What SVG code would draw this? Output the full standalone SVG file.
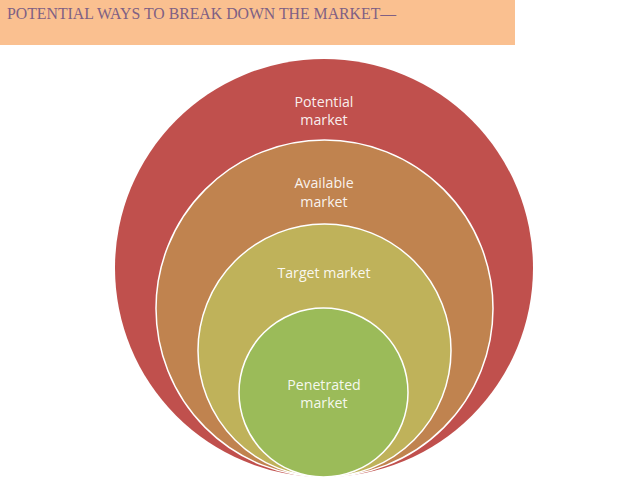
<svg xmlns="http://www.w3.org/2000/svg" width="638" height="479" viewBox="0 0 638 479">
<style>
.lbl{font-family:"Open Sans","Liberation Sans",sans-serif;font-size:14.2px;fill:#ffffff;fill-opacity:0.92;text-anchor:middle}
.ring{stroke:#ffffff;stroke-width:1.5}
</style>
<rect width="638" height="479" fill="#ffffff"/>
<g id="header">
<rect x="0" y="0" width="515" height="45" fill="#FAC090"/>
<text x="7" y="19" font-family="Liberation Serif,serif" font-size="15.8" fill="#7F6084">POTENTIAL WAYS TO BREAK DOWN THE MARKET—</text>
</g>
<g id="potential">
<circle cx="324" cy="268" r="209" fill="#C0504D"/>
<text class="lbl" x="324" y="107">Potential</text>
<text class="lbl" x="324" y="125">market</text>
</g>
<g id="available">
<circle class="ring" cx="324.5" cy="308.5" r="168.5" fill="#C0834F"/>
<text class="lbl" x="324" y="188">Available</text>
<text class="lbl" x="324" y="207">market</text>
</g>
<g id="target">
<circle class="ring" cx="324.5" cy="350.5" r="126.5" fill="#BFB25A"/>
<text class="lbl" x="324" y="278">Target market</text>
</g>
<g id="penetrated">
<circle class="ring" cx="323.5" cy="392.5" r="84.5" fill="#9BBB59"/>
<text class="lbl" x="324" y="390">Penetrated</text>
<text class="lbl" x="324" y="408">market</text>
</g>
<g id="connectors"/>
</svg>
